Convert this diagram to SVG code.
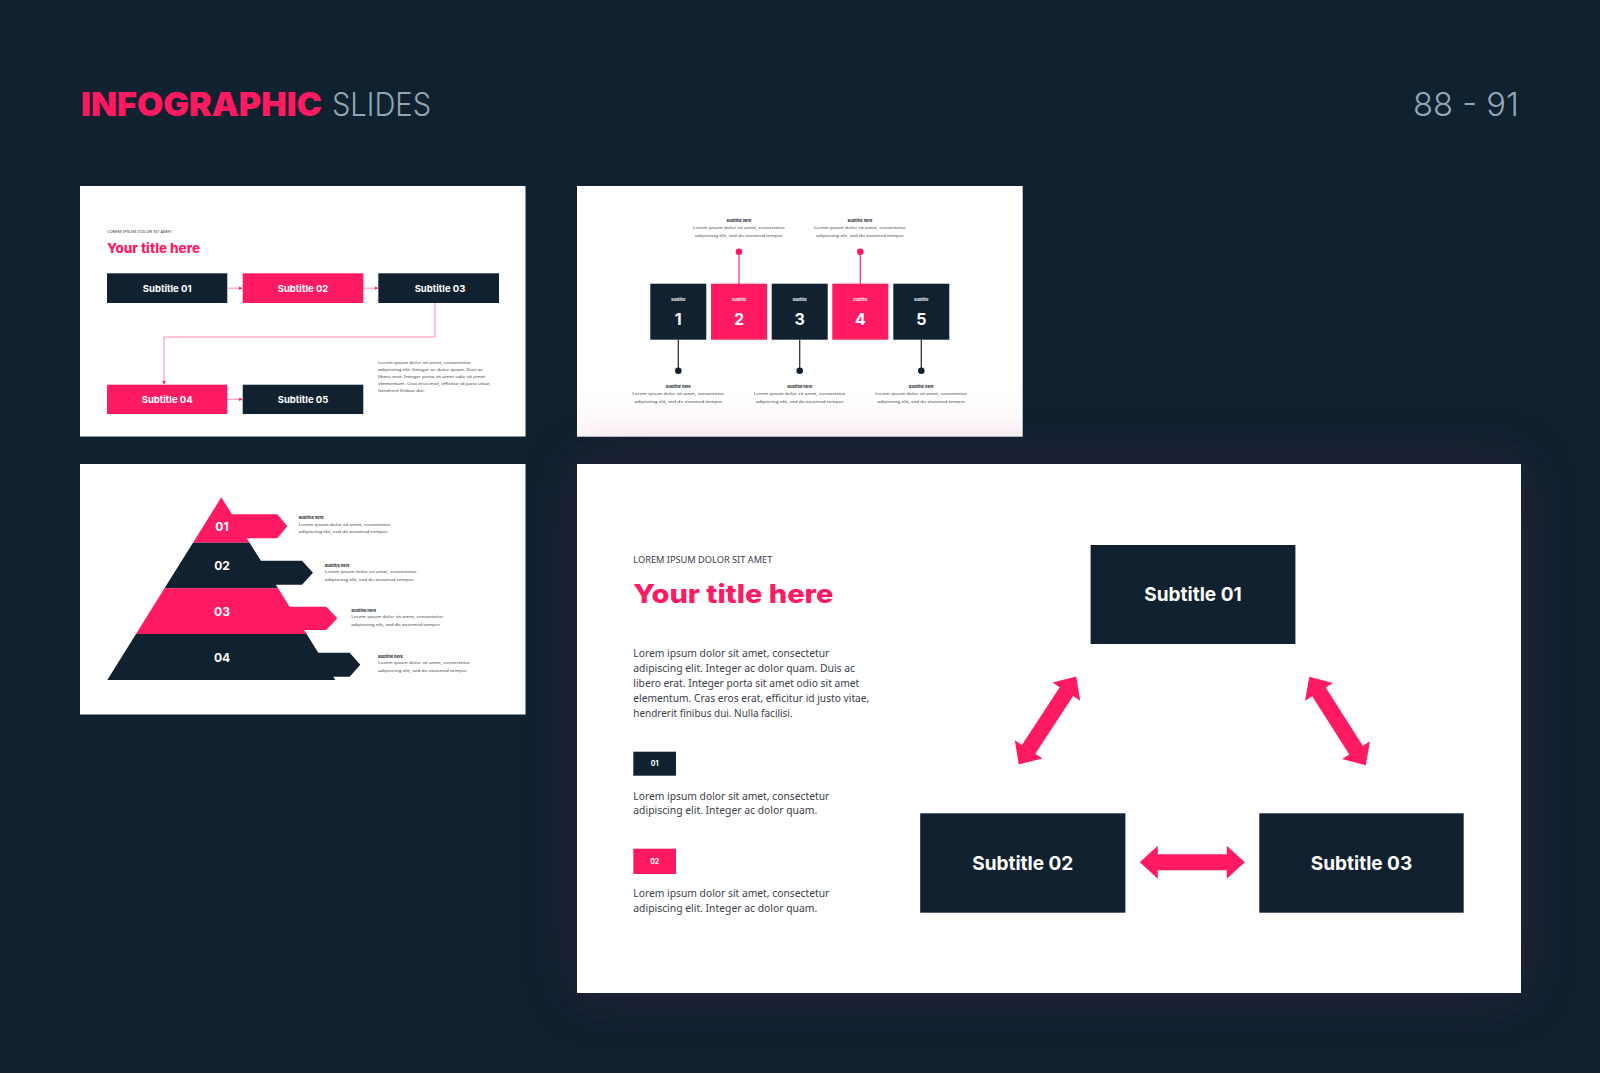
<svg xmlns="http://www.w3.org/2000/svg" width="1600" height="1073" viewBox="0 0 1600 1073">
<style>
.bg{fill:#10212f}
.slide{fill:#ffffff}
.dark{fill:#11212f}
.pink{fill:#ff1a62}
.hd{font-family:Inter,"Liberation Sans",sans-serif;font-weight:900;fill:#ff1a62}
.lt{font-family:Inter,"Liberation Sans",sans-serif;font-weight:300;fill:#93a6b6}
.lbl{font-family:Inter,"Liberation Sans",sans-serif;font-weight:700;fill:#ffffff;text-anchor:middle}
.ttl{font-family:Inter,"Liberation Sans",sans-serif;font-weight:800;fill:#ff1a62}
.body{font-family:"Noto Sans","Liberation Sans",sans-serif;fill:#3a3d48}
.sub{font-family:Inter,"Liberation Sans",sans-serif;font-weight:700;fill:#1c2532}
.mid{text-anchor:middle}
.thin{fill:none;stroke:#ff7fa4;stroke-width:0.9}
</style>
<defs>
<marker id="ah" viewBox="0 0 6 6" refX="5" refY="3" markerWidth="4" markerHeight="4" orient="auto">
<path d="M0,0 L6,3 L0,6 Z" fill="#ff1a62"/>
</marker>
<linearGradient id="fadeB" x1="0" y1="0" x2="0" y2="1">
<stop offset="0.8" stop-color="#ffffff"/>
<stop offset="1" stop-color="#fff8fa"/>
</linearGradient>
<filter id="glow" x="-20%" y="-20%" width="140%" height="140%">
<feGaussianBlur stdDeviation="28"/>
</filter>
<path id="dbl" d="M-52.5,0 L-34.5,-16.5 L-34.5,-8 L34.5,-8 L34.5,-16.5 L52.5,0 L34.5,16.5 L34.5,8 L-34.5,8 L-34.5,16.5 Z"/>
</defs>

<rect class="bg" x="0" y="0" width="1600" height="1073"/>

<g id="header">
<text class="hd" x="81" y="116" font-size="33" textLength="241" lengthAdjust="spacingAndGlyphs">INFOGRAPHIC</text>
<text class="lt" x="332" y="116" font-size="33" textLength="99" lengthAdjust="spacingAndGlyphs">SLIDES</text>
<text class="lt" x="1413" y="116" font-size="33" textLength="106" lengthAdjust="spacingAndGlyphs">88 - 91</text>
</g>

<!-- Slide A: process flow -->
<g id="slideA">
<rect class="slide" x="80" y="186" width="445.5" height="250.5"/>
<text class="body" x="107" y="232.7" font-size="4" textLength="65" lengthAdjust="spacingAndGlyphs">LOREM IPSUM DOLOR SIT AMET</text>
<text class="ttl" x="107" y="252.7" font-size="13" textLength="93" lengthAdjust="spacingAndGlyphs">Your title here</text>
<g class="body" font-size="4.3">
<text x="378" y="364" textLength="92.7" lengthAdjust="spacingAndGlyphs">Lorem ipsum dolor sit amet, consectetur</text>
<text x="378" y="371" textLength="105" lengthAdjust="spacingAndGlyphs">adipiscing elit. Integer ac dolor quam. Duis ac</text>
<text x="378" y="378" textLength="107" lengthAdjust="spacingAndGlyphs">libero erat. Integer porta sit amet odio sit amet</text>
<text x="378" y="385" textLength="112.7" lengthAdjust="spacingAndGlyphs">elementum.  Cras eros erat, efficitur id justo vitae,</text>
<text x="378" y="392" textLength="46.7" lengthAdjust="spacingAndGlyphs">hendrerit finibus dui.</text>
</g>
<g id="a-n1"><rect class="dark" x="107" y="273.3" width="120.3" height="29.7"/><text class="lbl" x="167.2" y="291.6" font-size="9.5">Subtitle 01</text></g>
<g id="a-n2"><rect class="pink" x="242.7" y="273.3" width="120.6" height="29.7"/><text class="lbl" x="303" y="291.6" font-size="9.5">Subtitle 02</text></g>
<g id="a-n3"><rect class="dark" x="378.3" y="273.3" width="120.7" height="29.7"/><text class="lbl" x="440" y="291.6" font-size="9.5">Subtitle 03</text></g>
<g id="a-n4"><rect class="pink" x="107" y="384.7" width="120.3" height="29.3"/><text class="lbl" x="167.2" y="402.7" font-size="9.5">Subtitle 04</text></g>
<g id="a-n5"><rect class="dark" x="242.7" y="384.7" width="120.6" height="29.3"/><text class="lbl" x="303" y="402.7" font-size="9.5">Subtitle 05</text></g>
<g id="a-connectors">
<line class="thin" x1="227.3" y1="288.2" x2="242" y2="288.2" marker-end="url(#ah)"/>
<line class="thin" x1="363.3" y1="288.2" x2="377.6" y2="288.2" marker-end="url(#ah)"/>
<polyline class="thin" points="435,303 435,337 164,337 164,384" marker-end="url(#ah)"/>
<line class="thin" x1="227.3" y1="399.3" x2="242" y2="399.3" marker-end="url(#ah)"/>
</g>
</g>

<!-- Slide B: numbered timeline -->
<g id="slideB">
<rect x="577" y="186" width="445.7" height="250.7" fill="url(#fadeB)"/>
<g id="b-connectors">
<line x1="739" y1="251.7" x2="739" y2="284" stroke="#ff3b74" stroke-width="1.3"/>
<circle cx="739" cy="251.7" r="3.3" fill="#ff1a62"/>
<line x1="860.3" y1="251.7" x2="860.3" y2="284" stroke="#ff3b74" stroke-width="1.3"/>
<circle cx="860.3" cy="251.7" r="3.3" fill="#ff1a62"/>
<line x1="678.3" y1="339.5" x2="678.3" y2="370.7" stroke="#2a3544" stroke-width="1.3"/>
<circle cx="678.3" cy="370.7" r="3.3" fill="#11212f"/>
<line x1="799.7" y1="339.5" x2="799.7" y2="370.7" stroke="#2a3544" stroke-width="1.3"/>
<circle cx="799.7" cy="370.7" r="3.3" fill="#11212f"/>
<line x1="921.3" y1="339.5" x2="921.3" y2="370.7" stroke="#2a3544" stroke-width="1.3"/>
<circle cx="921.3" cy="370.7" r="3.3" fill="#11212f"/>
</g>
<g id="b-n1"><rect class="dark" x="650.3" y="283.7" width="56" height="56"/><text class="lbl" x="678.3" y="300.7" font-size="3.8">Subtitle</text><text class="lbl" x="678.3" y="325" font-size="16">1</text></g>
<g id="b-n2"><rect class="pink" x="711" y="283.7" width="56" height="56"/><text class="lbl" x="739" y="300.7" font-size="3.8">Subtitle</text><text class="lbl" x="739" y="325" font-size="16">2</text></g>
<g id="b-n3"><rect class="dark" x="771.7" y="283.7" width="56" height="56"/><text class="lbl" x="799.7" y="300.7" font-size="3.8">Subtitle</text><text class="lbl" x="799.7" y="325" font-size="16">3</text></g>
<g id="b-n4"><rect class="pink" x="832.3" y="283.7" width="56" height="56"/><text class="lbl" x="860.3" y="300.7" font-size="3.8">Subtitle</text><text class="lbl" x="860.3" y="325" font-size="16">4</text></g>
<g id="b-n5"><rect class="dark" x="893.3" y="283.7" width="56" height="56"/><text class="lbl" x="921.3" y="300.7" font-size="3.8">Subtitle</text><text class="lbl" x="921.3" y="325" font-size="16">5</text></g>
<g font-size="4">
<g id="b-t2"><text class="sub mid" x="739" y="222.3">Subtitle here</text><text class="body mid" x="739" y="229" textLength="92" lengthAdjust="spacingAndGlyphs">Lorem ipsum dolor sit amet, consectetur</text><text class="body mid" x="739" y="236.7" textLength="88" lengthAdjust="spacingAndGlyphs">adipiscing elit, sed do eiusmod tempor</text></g>
<g id="b-t4"><text class="sub mid" x="860" y="222.3">Subtitle here</text><text class="body mid" x="860" y="229" textLength="92" lengthAdjust="spacingAndGlyphs">Lorem ipsum dolor sit amet, consectetur</text><text class="body mid" x="860" y="236.7" textLength="88" lengthAdjust="spacingAndGlyphs">adipiscing elit, sed do eiusmod tempor</text></g>
<g id="b-t1"><text class="sub mid" x="678.3" y="388.3">Subtitle here</text><text class="body mid" x="678.3" y="395.3" textLength="92" lengthAdjust="spacingAndGlyphs">Lorem ipsum dolor sit amet, consectetur</text><text class="body mid" x="678.3" y="402.7" textLength="88" lengthAdjust="spacingAndGlyphs">adipiscing elit, sed do eiusmod tempor</text></g>
<g id="b-t3"><text class="sub mid" x="799.7" y="388.3">Subtitle here</text><text class="body mid" x="799.7" y="395.3" textLength="92" lengthAdjust="spacingAndGlyphs">Lorem ipsum dolor sit amet, consectetur</text><text class="body mid" x="799.7" y="402.7" textLength="88" lengthAdjust="spacingAndGlyphs">adipiscing elit, sed do eiusmod tempor</text></g>
<g id="b-t5"><text class="sub mid" x="921.3" y="388.3">Subtitle here</text><text class="body mid" x="921.3" y="395.3" textLength="92" lengthAdjust="spacingAndGlyphs">Lorem ipsum dolor sit amet, consectetur</text><text class="body mid" x="921.3" y="402.7" textLength="88" lengthAdjust="spacingAndGlyphs">adipiscing elit, sed do eiusmod tempor</text></g>
</g>
</g>

<!-- Slide C: pyramid -->
<g id="slideC">
<rect class="slide" x="80" y="464" width="445.5" height="250.5"/>
<g id="c-l1"><polygon class="pink" points="221.3,497.3 231.9,514.3 277.3,514.3 287.3,526.3 277.3,538.3 246.9,538.3 249.6,542.7 193,542.7"/><text class="lbl" x="222" y="531" font-size="12">01</text></g>
<g id="c-l2"><polygon class="dark" points="193,542.7 249.6,542.7 260.9,560.7 302,560.7 313,572.7 302,584.7 275.8,584.7 278.1,588.3 164.5,588.3"/><text class="lbl" x="222" y="570" font-size="12">02</text></g>
<g id="c-l3"><polygon class="pink" points="164.5,588.3 278.1,588.3 289.6,606.7 326.3,606.7 337.3,618.3 326.3,630 304.1,630 306.6,634 136,634"/><text class="lbl" x="222" y="615.7" font-size="12">03</text></g>
<g id="c-l4"><polygon class="dark" points="136,634 306.6,634 318.3,652.7 349.7,652.7 360.3,664.7 349.7,676.7 333.2,676.7 335.3,680 107.3,680"/><text class="lbl" x="222" y="661.7" font-size="12">04</text></g>
<g font-size="4">
<g id="c-t1"><text class="sub" x="298.7" y="519.3">Subtitle here</text><text class="body" x="298.7" y="526" textLength="92" lengthAdjust="spacingAndGlyphs">Lorem ipsum dolor sit amet, consectetur</text><text class="body" x="298.7" y="533" textLength="89" lengthAdjust="spacingAndGlyphs">adipiscing elit, sed do eiusmod tempor</text></g>
<g id="c-t2"><text class="sub" x="324.7" y="566.7">Subtitle here</text><text class="body" x="324.7" y="573.3" textLength="92" lengthAdjust="spacingAndGlyphs">Lorem ipsum dolor sit amet, consectetur</text><text class="body" x="324.7" y="580.7" textLength="89" lengthAdjust="spacingAndGlyphs">adipiscing elit, sed do eiusmod tempor</text></g>
<g id="c-t3"><text class="sub" x="351.3" y="611.7">Subtitle here</text><text class="body" x="351.3" y="618.3" textLength="92" lengthAdjust="spacingAndGlyphs">Lorem ipsum dolor sit amet, consectetur</text><text class="body" x="351.3" y="625.7" textLength="89" lengthAdjust="spacingAndGlyphs">adipiscing elit, sed do eiusmod tempor</text></g>
<g id="c-t4"><text class="sub" x="378" y="657.7">Subtitle here</text><text class="body" x="378" y="664.3" textLength="92" lengthAdjust="spacingAndGlyphs">Lorem ipsum dolor sit amet, consectetur</text><text class="body" x="378" y="671.7" textLength="89" lengthAdjust="spacingAndGlyphs">adipiscing elit, sed do eiusmod tempor</text></g>
</g>
</g>

<!-- Slide D: cycle -->
<rect x="577" y="464" width="944" height="529" fill="#5a2450" opacity="0.35" filter="url(#glow)"/>
<g id="slideD">
<rect class="slide" x="577" y="464" width="944" height="529"/>
<text class="body" x="633.3" y="563.3" font-size="9" textLength="139" lengthAdjust="spacingAndGlyphs">LOREM IPSUM DOLOR SIT AMET</text>
<text class="ttl" x="633.3" y="603.3" font-size="26" textLength="200" lengthAdjust="spacingAndGlyphs">Your title here</text>
<g class="body" font-size="10.3">
<text x="633.3" y="656.7" textLength="196" lengthAdjust="spacingAndGlyphs">Lorem ipsum dolor sit amet, consectetur</text>
<text x="633.3" y="671.7" textLength="221.7" lengthAdjust="spacingAndGlyphs">adipiscing elit. Integer ac dolor quam. Duis ac</text>
<text x="633.3" y="686.7" textLength="226" lengthAdjust="spacingAndGlyphs">libero erat. Integer porta sit amet odio sit amet</text>
<text x="633.3" y="702" textLength="236" lengthAdjust="spacingAndGlyphs">elementum.  Cras eros erat, efficitur id justo vitae,</text>
<text x="633.3" y="716.7" textLength="159.3" lengthAdjust="spacingAndGlyphs">hendrerit finibus dui. Nulla facilisi.</text>
<text x="633.3" y="800" textLength="196" lengthAdjust="spacingAndGlyphs">Lorem ipsum dolor sit amet, consectetur</text>
<text x="633.3" y="814" textLength="184" lengthAdjust="spacingAndGlyphs">adipiscing elit. Integer ac dolor quam.</text>
<text x="633.3" y="897.3" textLength="196" lengthAdjust="spacingAndGlyphs">Lorem ipsum dolor sit amet, consectetur</text>
<text x="633.3" y="912" textLength="184" lengthAdjust="spacingAndGlyphs">adipiscing elit. Integer ac dolor quam.</text>
</g>
<g id="d-badge1"><rect class="dark" x="633.3" y="751.7" width="42.7" height="24"/><text class="lbl" x="654.7" y="766.2" font-size="7">01</text></g>
<g id="d-badge2"><rect class="pink" x="633.3" y="848.7" width="42.7" height="25.3"/><text class="lbl" x="654.7" y="863.8" font-size="7">02</text></g>
<g id="d-connectors" class="pink">
<use href="#dbl" transform="translate(1047.5,720.5) rotate(-56.8)"/>
<use href="#dbl" transform="translate(1337.5,721) rotate(57.5)"/>
<use href="#dbl" transform="translate(1192.3,862.3)"/>
</g>
<g id="d-n1"><rect class="dark" x="1090.6" y="545" width="204.8" height="99"/><text class="lbl" x="1193" y="601" font-size="19">Subtitle 01</text></g>
<g id="d-n2"><rect class="dark" x="920.2" y="813.3" width="205.2" height="99.4"/><text class="lbl" x="1022.8" y="869.5" font-size="19">Subtitle 02</text></g>
<g id="d-n3"><rect class="dark" x="1259.3" y="813.3" width="204.4" height="99.4"/><text class="lbl" x="1361.5" y="869.5" font-size="19">Subtitle 03</text></g>
</g>
</svg>
